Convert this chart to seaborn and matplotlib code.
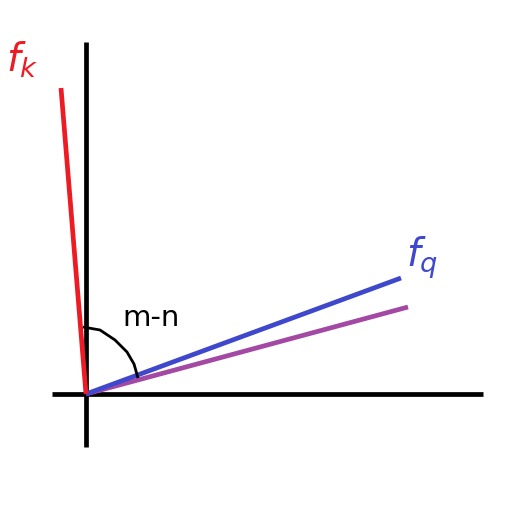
import matplotlib
matplotlib.use("Agg")
import matplotlib.pyplot as plt
import seaborn as sns

sns.set_style("white")

# hand-drawn vector diagram, coordinates in picture pixels (y down)
axis_x = [86, 86]
axis_y = [42, 447]
haxis_x = [52, 483]
haxis_y = [394, 394]

fk_x = [86, 61]
fk_y = [394, 88]
fq_x = [86, 401]
fq_y = [394, 278]
mix_x = [86, 408]
mix_y = [394, 307]

arc_x = [83, 100, 115, 127, 134, 138]
arc_y = [327, 330, 340, 352, 364, 378]

labels = {"fk": "$f_k$", "fq": "$f_q$", "angle": "m-n"}

fig = plt.figure(figsize=(5.12, 5.12), dpi=100)
ax = fig.add_axes([0, 0, 1, 1])

lw = 3.4
def seg(x, y, color, width):
    sns.lineplot(x=x, y=y, ax=ax, color=color, lw=width, sort=False,
                 estimator=None, solid_capstyle="butt")

seg(axis_x, axis_y, "black", lw)
seg(haxis_x, haxis_y, "black", lw)
seg(mix_x, mix_y, "#a349a4", lw)
seg(fq_x, fq_y, "#3f48cc", lw)
seg(fk_x, fk_y, "#ed1c24", lw)
seg(arc_x, arc_y, "black", 2.0)

ax.text(6, 60, labels["fk"], color="#ed1c24", fontsize=28, va="center")
ax.text(406, 258, labels["fq"], color="#3f48cc", fontsize=28, va="center")
ax.text(122, 318, labels["angle"], color="black", fontsize=21, va="center")

ax.set_xlim(0, 512)
ax.set_ylim(512, 0)
ax.axis("off")

fig.savefig("out.png", dpi=100, facecolor="white")
